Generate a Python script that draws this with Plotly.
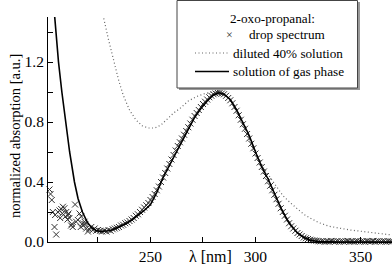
import plotly.graph_objects as go

# ---------------- data ----------------
gas_wl = [203.5, 204.3, 205.2, 206.2, 207.8, 209.5, 211.5, 213.8, 215.5, 217.6, 220, 222, 224, 226,
          228, 230, 232, 235, 238, 241, 244, 247, 250, 253, 256, 259, 262, 265, 268, 271, 274, 277,
          280, 282.5, 285, 288, 291, 294, 297, 300, 303, 306, 309, 312, 315, 317, 320, 323, 326,
          330, 340, 366]
gas_val = [1.65, 1.5, 1.35, 1.2, 1.0, 0.8, 0.6, 0.4, 0.29, 0.2, 0.13, 0.095, 0.077, 0.07,
           0.07, 0.075, 0.082, 0.1, 0.12, 0.145, 0.175, 0.21, 0.25, 0.33, 0.43, 0.51, 0.6, 0.68,
           0.76, 0.83, 0.89, 0.94, 0.98, 0.995, 0.985, 0.95, 0.88, 0.80, 0.71, 0.60, 0.50, 0.42,
           0.32, 0.23, 0.15, 0.11, 0.06, 0.03, 0.012, 0.003, 0.0, 0.0]

dil_wl = [227, 227.6, 230, 232.4, 235, 237, 240, 243, 246, 249, 252, 255, 258, 261, 264, 268, 272,
          276, 280, 283, 286, 289, 292, 295, 298, 301, 304, 307, 310, 313, 316.7, 320, 323, 326,
          330, 335, 339, 345, 350, 355, 360, 366]
dil_val = [1.56, 1.5, 1.35, 1.21, 1.07, 0.98, 0.88, 0.815, 0.775, 0.76, 0.76, 0.78, 0.82, 0.86,
           0.89, 0.94, 0.97, 0.99, 1.0, 1.0, 0.975, 0.93, 0.85, 0.75, 0.65, 0.56, 0.49, 0.43, 0.37,
           0.31, 0.26, 0.22, 0.185, 0.16, 0.13, 0.105, 0.093, 0.08, 0.072, 0.066, 0.055, 0.045]

drop_noise_wl = [201.9, 202.4, 203.0, 203.5, 204.3, 205.1, 204.6, 205.9, 206.7, 207.5, 208.3, 209.0,
                 209.9, 210.6, 211.4, 212.2, 213.0, 214.1, 214.6, 215.4, 216.2, 217.0, 217.8, 218.6,
                 219.4, 220.2, 221.8, 223.4, 207.0, 208.0, 209.5, 210.5, 211.0, 212.5, 216.8, 218.0,
                 219.0, 220.8, 222.5, 224.2]
drop_noise_val = [0.35, 0.32, 0.28, 0.20, 0.10, 0.05, 0.18, 0.20, 0.21, 0.22, 0.235, 0.225,
                  0.20, 0.18, 0.16, 0.11, 0.10, 0.25, 0.135, 0.147, 0.19, 0.17, 0.125, 0.135,
                  0.09, 0.07, 0.10, 0.09, 0.16, 0.19, 0.17, 0.15, 0.19, 0.12, 0.10, 0.11,
                  0.12, 0.085, 0.08, 0.075]
drop_wl = list(range(225, 367))
drop_val = [0.08, 0.075, 0.07, 0.075, 0.07, 0.08, 0.075, 0.085, 0.09, 0.095,
            0.10, 0.11, 0.115, 0.125, 0.13, 0.14, 0.15, 0.16, 0.175, 0.185,
            0.20, 0.215, 0.23, 0.245, 0.26, 0.28, 0.30, 0.32, 0.345, 0.37,
            0.40, 0.43, 0.46, 0.49, 0.52, 0.55, 0.58, 0.61, 0.64, 0.665,
            0.69, 0.715, 0.74, 0.765, 0.79, 0.815, 0.84, 0.86, 0.88, 0.90,
            0.92, 0.935, 0.95, 0.965, 0.975, 0.985, 0.99, 0.995, 0.995, 0.99,
            0.985, 0.975, 0.96, 0.945, 0.925, 0.90, 0.875, 0.845, 0.815, 0.785,
            0.755, 0.72, 0.69, 0.655, 0.625, 0.59, 0.56, 0.53, 0.50, 0.47,
            0.44, 0.405, 0.375, 0.345, 0.315, 0.285, 0.255, 0.225, 0.20, 0.175,
            0.15, 0.125, 0.105, 0.09, 0.075, 0.06, 0.05, 0.04, 0.03, 0.025,
            0.02, 0.015, 0.012, 0.01, 0.008, 0.005, 0.004, 0.006, 0.002, 0.005,
            0.003, 0.007, 0.004, 0.002, 0.006, 0.003, 0.005, 0.002, 0.004, 0.007,
            0.003, 0.005, 0.002, 0.006, 0.004, 0.003, 0.005, 0.002, 0.006, 0.004,
            0.003, 0.007, 0.002, 0.005, 0.004, 0.003, 0.006, 0.002, 0.005, 0.004,
            0.003, 0.005]

x_ticks = [250, 300, 350]
y_ticks = [0.0, 0.4, 0.8, 1.2]
legend_title = "2-oxo-propanal:"
legend_names = ["drop spectrum", "diluted 40% solution", "solution of gas phase"]

# ---------------- figure ----------------
W, H = 392, 269
ML, MR, MT, MB = 48, 0, 17, 27
PW, PH = W - ML - MR, H - MT - MB
FONT = "Liberation Serif, Times New Roman, serif"
DOT = dict(color="#666", width=1.2, dash="1px,2.5px")


def px(x):
    return (x - ML) / PW


def py(y):
    return (H - MB - y) / PH


fig = go.Figure()
fig.add_trace(go.Scatter(x=dil_wl, y=dil_val, mode="lines", line=DOT, showlegend=False))
fig.add_trace(go.Scatter(x=drop_noise_wl + drop_wl, y=drop_noise_val + drop_val, mode="markers",
                         marker=dict(symbol="x-thin", size=6, line=dict(width=1, color="#333")),
                         cliponaxis=False, showlegend=False))
fig.add_trace(go.Scatter(x=gas_wl, y=gas_val, mode="lines", line=dict(color="black", width=1.6),
                         showlegend=False))

shapes = []
annotations = []
# legend box with shadow
shapes.append(dict(type="rect", xref="paper", yref="paper", x0=px(179), x1=px(360), y0=py(90), y1=py(2),
                   fillcolor="#999", line=dict(width=0), layer="above"))
shapes.append(dict(type="rect", xref="paper", yref="paper", x0=px(177), x1=px(357.5), y0=py(88), y1=py(0.5),
                   fillcolor="white", line=dict(color="#444", width=1), layer="above"))
shapes.append(dict(type="line", xref="paper", yref="paper", x0=px(195), x1=px(229), y0=py(53), y1=py(53),
                   line=DOT, layer="above"))
shapes.append(dict(type="line", xref="paper", yref="paper", x0=px(195), x1=px(229), y0=py(71.5), y1=py(71.5),
                   line=dict(color="black", width=1.6), layer="above"))

lf = dict(family=FONT, size=13.2, color="black")
annotations.append(dict(text=legend_title, xref="paper", yref="paper", x=px(272.5), y=py(18), showarrow=False,
                        xanchor="center", yanchor="middle", font=lf))
annotations.append(dict(text="×", xref="paper", yref="paper", x=px(229), y=py(35), showarrow=False,
                        xanchor="center", yanchor="middle", font=dict(family=FONT, size=12, color="#333")))
annotations.append(dict(text=legend_names[0], xref="paper", yref="paper", x=px(287.5), y=py(34), showarrow=False,
                        xanchor="center", yanchor="middle", font=lf))
annotations.append(dict(text=legend_names[1], xref="paper", yref="paper", x=px(288), y=py(53), showarrow=False,
                        xanchor="center", yanchor="middle", font=lf))
annotations.append(dict(text=legend_names[2], xref="paper", yref="paper", x=px(288), y=py(71), showarrow=False,
                        xanchor="center", yanchor="middle", font=lf))
# axis titles
annotations.append(dict(text="λ [nm]", xref="paper", yref="paper", x=px(210), y=py(256), showarrow=False,
                        xanchor="center", yanchor="middle", font=dict(family=FONT, size=16, color="black")))
annotations.append(dict(text="normalized absorption [a.u.]", xref="paper", yref="paper", x=px(15), y=py(136),
                        showarrow=False, textangle=-90, xanchor="center", yanchor="middle",
                        font=dict(family=FONT, size=14.5, color="black")))

fig.update_layout(
    width=W, height=H, margin=dict(l=ML, r=MR, t=MT, b=MB, autoexpand=False),
    paper_bgcolor="white", plot_bgcolor="white",
    font=dict(family=FONT, size=15.5, color="black"),
    shapes=shapes, annotations=annotations, showlegend=False,
)
fig.update_xaxes(range=[201.2, 365], showgrid=False, zeroline=False, showline=True, linecolor="black",
                 linewidth=1, ticks="inside", ticklen=5, tickcolor="black", tickvals=x_ticks,
                 minor=dict(tickvals=[225, 275, 325], ticks="inside", ticklen=5, tickcolor="black"))
fig.update_yaxes(range=[0, 1.5], showgrid=False, zeroline=False, showline=True, linecolor="black",
                 linewidth=1, ticks="inside", ticklen=5, tickcolor="black", tickvals=y_ticks,
                 ticktext=[f"{v:.1f}" for v in y_ticks],
                 minor=dict(tickvals=[0.2, 0.6, 1.0, 1.4], ticks="inside", ticklen=5, tickcolor="black"))

fig.write_html("out.html", config={"displayModeBar": False},
               post_script="document.body.style.margin='0';document.body.style.padding='0';")
